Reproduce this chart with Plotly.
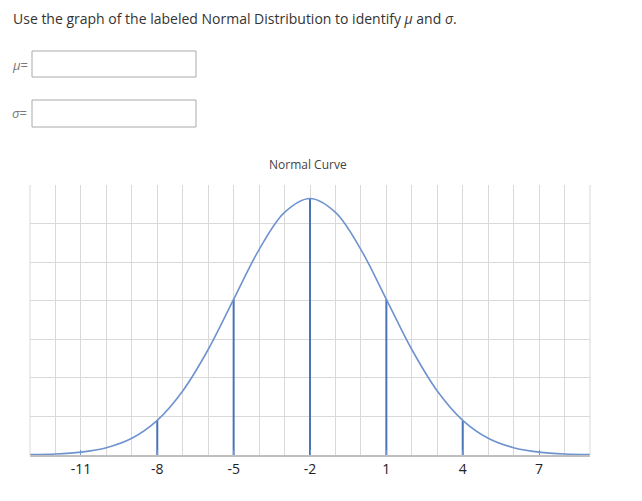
import plotly.graph_objects as go

# curve values (x in integer steps)
curve_x = list(range(-13, 10))
curve_y = [0.0002, 0.0005, 0.0015, 0.0038, 0.0087, 0.0180, 0.0332, 0.0547, 0.0807,
           0.1065, 0.1258, 0.1330, 0.1258, 0.1065, 0.0807, 0.0547, 0.0332, 0.0180,
           0.0087, 0.0038, 0.0015, 0.0005, 0.0002]
# labeled vertical lines (mu ± k sigma)
mark_x = [-8, -5, -2, 1, 4]
mark_y = [0.0180, 0.0807, 0.1330, 0.0807, 0.0180]
tick_vals = [-11, -8, -5, -2, 1, 4, 7]
tick_text = ["-11", "-8", "-5", "-2", "1", "4", "7"]

OFF = 8  # page body margin
W, H = 626, 485
L, R, T, B = 30 - OFF, 590 - OFF, 185 - OFF, 455 - OFF
def px(x): return (x - OFF - L) / (R - L)
def py(y): return (B - (y - OFF)) / (B - T)

vx, vy = [], []
for x, y in zip(mark_x, mark_y):
    vx += [x, x, None]; vy += [0, y, None]

fig = go.Figure()
fig.add_trace(go.Scatter(x=vx, y=vy, mode="lines", line=dict(color="#4a72b8", width=2),
                         hoverinfo="skip"))
fig.add_trace(go.Scatter(x=curve_x, y=curve_y, mode="lines", line=dict(color="#6f93cf", width=1.6, shape="spline"),
                         hoverinfo="skip"))

font = "Open Sans, sans-serif"
fig.update_layout(
    width=W, height=H, showlegend=False,
    paper_bgcolor="white", plot_bgcolor="white",
    margin=dict(l=L, r=W - R, t=T, b=H - B, pad=0),
    font=dict(family=font, color="#333"),
    xaxis=dict(range=[-13, 9], tickvals=tick_vals, ticktext=tick_text, showgrid=True,
               gridcolor="#d9d9d9", gridwidth=1, zeroline=False, ticks="inside", ticklen=5,
               tickcolor="#6f93cf", tickfont=dict(size=14, color="#222"),
               showline=True, linecolor="#bfbfbf", linewidth=1.5,
               minor=dict(dtick=1, tick0=0, showgrid=True, gridcolor="#d9d9d9", ticks="")),
    yaxis=dict(range=[0, 0.14], dtick=0.02, showticklabels=False, showgrid=True,
               gridcolor="#d9d9d9", zeroline=False, fixedrange=True),
)
fig.add_shape(type="line", xref="paper", yref="paper", x0=0, x1=0, y0=0, y1=1,
              line=dict(color="#d9d9d9", width=1))
fig.add_shape(type="line", xref="paper", yref="paper", x0=1, x1=1, y0=0, y1=1,
              line=dict(color="#d9d9d9", width=1))

def txt(x, y, s, size, color="#333", anchor="left"):
    fig.add_annotation(xref="paper", yref="paper", x=px(x), y=py(y), text=s, showarrow=False,
                       xanchor=anchor, yanchor="middle", font=dict(size=size, color=color, family=font))

txt(11, 18, "Use the graph of the labeled Normal Distribution to identify <i>μ</i> and <i>σ</i>.", 14)
txt(10, 65, "<i>μ</i>=", 13, "#777")
txt(10, 113, "<i>σ</i>=", 13, "#777")
txt(308, 164, "Normal Curve", 12, "#444", "center")
for y0, y1 in [(51, 77), (100, 127)]:
    fig.add_shape(type="rect", xref="paper", yref="paper", x0=px(32), x1=px(196), y0=py(y1), y1=py(y0),
                  line=dict(color="#aaaaaa", width=1), fillcolor="white", layer="above")

fig.write_html("out.html")
